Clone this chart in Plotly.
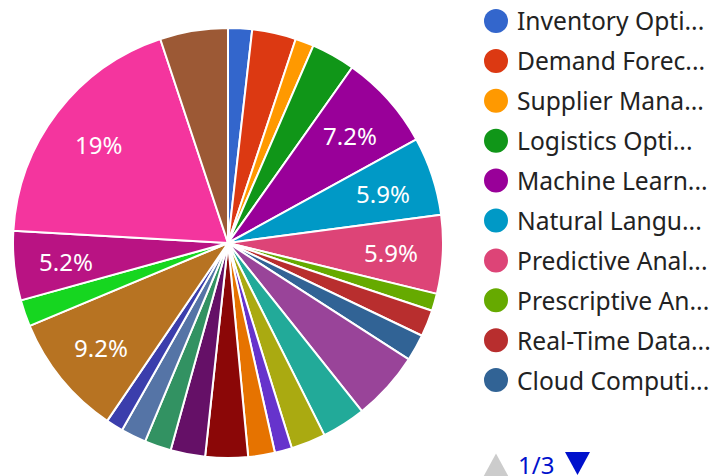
import math
import plotly.graph_objects as go

# ---------------- data ----------------
labels = [
    "Inventory Optimization", "Demand Forecasting", "Supplier Management",
    "Logistics Optimization", "Machine Learning", "Natural Language Processing",
    "Predictive Analytics", "Prescriptive Analytics", "Real-Time Data Processing",
    "Cloud Computing", "Big Data Analytics", "Internet of Things", "Blockchain",
    "Robotic Process Automation", "Computer Vision", "Deep Learning",
    "Digital Twins", "Edge Computing", "Data Visualization", "Risk Management",
    "Warehouse Automation", "Route Optimization", "Customer Analytics",
    "Procurement Automation", "Quality Control",
]
values = [18, 33, 14, 33, 72, 59, 59, 13, 20, 20, 52, 33, 26, 13, 20, 32,
          26, 20, 19, 13, 92, 20, 52, 190, 51]
colors = ["#3366cc", "#dc3912", "#ff9900", "#109618", "#990099", "#0099c6",
          "#dd4477", "#66aa00", "#b82e2e", "#316395", "#994499", "#22aa99",
          "#aaaa11", "#6633cc", "#e67300", "#8b0707", "#651067", "#329262",
          "#5574a6", "#3b3eac", "#b77322", "#16d620", "#b91383", "#f4359e",
          "#9c5935"]
# slices whose percentage is printed
labeled = ["Machine Learning", "Natural Language Processing", "Predictive Analytics",
           "Warehouse Automation", "Customer Analytics", "Procurement Automation"]
# legend page 1 (truncated as displayed)
legend_page = ["Inventory Opti...", "Demand Forec...", "Supplier Mana...", "Logistics Opti...",
               "Machine Learn...", "Natural Langu...", "Predictive Anal...",
               "Prescriptive An...", "Real-Time Data...", "Cloud Computi..."]
page_text = "1/3"

# ---------------- figure ----------------
W, H = 712, 476
FONT = "Noto Sans"
total = sum(values)

cx, cy, r = 228, 243, 215
fig = go.Figure(go.Pie(
    labels=labels, values=values, sort=False, direction="clockwise", rotation=0,
    marker=dict(colors=colors, line=dict(color="white", width=2)),
    textinfo="none",
    domain=dict(x=[(cx - r) / W, (cx + r) / W], y=[(H - cy - r) / H, (H - cy + r) / H]),
    showlegend=False,
))

shapes, annotations = [], []

# percentage labels along each slice bisector
cum = 0
for l, v in zip(labels, values):
    mid = (cum + v / 2) / total
    cum += v
    if l not in labeled:
        continue
    th = 2 * math.pi * mid
    px = cx + 0.76 * r * math.sin(th)
    py = cy - 0.76 * r * math.cos(th)
    annotations.append(dict(text=format(100 * v / total, ".3g") + "%",
                            x=px / W, y=1 - (py + 1) / H, xref="paper", yref="paper",
                            xanchor="center", yanchor="middle", showarrow=False,
                            font=dict(family=FONT, size=24, color="white")))

# legend (first page)
lx, ly0, dy = 496, 21, 39.9
for i, txt in enumerate(legend_page):
    y = ly0 + i * dy
    shapes.append(dict(type="circle", xref="paper", yref="paper",
                       xsizemode="pixel", ysizemode="pixel",
                       xanchor=lx / W, yanchor=1 - y / H,
                       x0=-12, x1=12, y0=-12, y1=12,
                       fillcolor=colors[i], line=dict(width=0)))
    annotations.append(dict(text=txt, x=(lx + 19) / W, y=1 - y / H, xref="paper", yref="paper",
                            xanchor="left", yanchor="middle", showarrow=False,
                            font=dict(family=FONT, size=24.6, color="#222222")))

# pager
shapes.append(dict(type="path", xref="paper", yref="paper", xsizemode="pixel", ysizemode="pixel",
                   xanchor=496 / W, yanchor=1 - 465 / H,
                   path="M -12.5 -11.5 L 12.5 -11.5 L 0 11.5 Z", fillcolor="#cccccc", line=dict(width=0)))
shapes.append(dict(type="path", xref="paper", yref="paper", xsizemode="pixel", ysizemode="pixel",
                   xanchor=577.5 / W, yanchor=1 - 463.5 / H,
                   path="M -12.5 11.5 L 12.5 11.5 L 0 -11.5 Z", fillcolor="#0011cc", line=dict(width=0)))
annotations.append(dict(text=page_text, x=536 / W, y=1 - 464 / H, xref="paper", yref="paper",
                        xanchor="center", yanchor="middle", showarrow=False,
                        height=20, valign="middle", borderpad=0,
                        font=dict(family=FONT, size=24, color="#0011cc")))

fig.update_layout(
    width=W, height=H, margin=dict(l=0, r=0, t=0, b=0),
    paper_bgcolor="white", plot_bgcolor="white",
    shapes=shapes, annotations=annotations,
    font=dict(family=FONT),
)
fig.write_html("out.html", config={"displayModeBar": False},
               post_script="document.body.style.margin='0';")
